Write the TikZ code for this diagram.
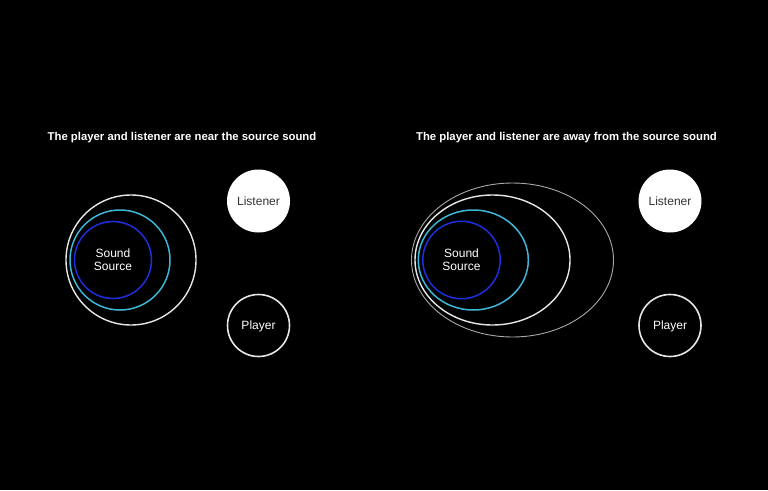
\documentclass[tikz,border=0pt]{standalone}
\usepackage{fontspec}
\setmainfont{Liberation Sans}
\definecolor{srcblue}{HTML}{1E2FE0}
\definecolor{srccyan}{HTML}{3DB6D8}
\definecolor{ringwhite}{HTML}{E6E6E6}
\definecolor{ringgray}{HTML}{A8A8A8}
\definecolor{labeldark}{HTML}{333333}
\begin{document}
\begin{tikzpicture}[x=1pt,y=-1pt,
  title/.style={text=white,font=\fontsize{11.35}{13}\selectfont\bfseries,inner sep=0pt},
  srclabel/.style={text=white,font=\fontsize{12}{13.5}\selectfont,align=center,inner sep=0pt},
  listenerbox/.style={circle,fill=white,minimum size=63pt,inner sep=0pt,text depth=0pt,text=labeldark,font=\fontsize{12}{13.5}\selectfont},
  playerbox/.style={circle,draw=ringwhite,line width=1.6pt,minimum size=62pt,inner sep=0pt,text depth=0pt,text=white,font=\fontsize{12}{13.5}\selectfont},
  bluering/.style={draw=srcblue,line width=1.5pt},
  cyanring/.style={draw=srccyan,line width=1.5pt},
  whitering/.style={draw=ringwhite,line width=1.4pt},
  grayring/.style={draw=ringgray,line width=0.9pt}
]
\useasboundingbox[fill=black] (0,0) rectangle (768,490);

% Left panel
\node[title] (t1) at (182,137.5) {The player and listener are near the source sound};
\draw[whitering] (131,260) circle (65);
\draw[cyanring] (120,260) circle (50);
\draw[bluering] (113,260) circle (38.5);
\node[srclabel] (s1) at (113,259.5) {Sound\\Source};
\node[listenerbox] (l1) at (258.5,201) {Listener};
\node[playerbox] (p1) at (258.5,325.5) {Player};

% Right panel
\node[title] (t2) at (566.5,137.5) {The player and listener are away from the source sound};
\draw[grayring] (512.5,260) ellipse (101 and 77);
\draw[whitering] (492.5,260) ellipse (77.5 and 65);
\draw[cyanring] (473.3,260) ellipse (55 and 50);
\draw[bluering] (461.5,260) circle (38.7);
\node[srclabel] (s2) at (461.5,259.5) {Sound\\Source};
\node[listenerbox] (l2) at (670,201) {Listener};
\node[playerbox] (p2) at (670,325.5) {Player};
\end{tikzpicture}
\end{document}
